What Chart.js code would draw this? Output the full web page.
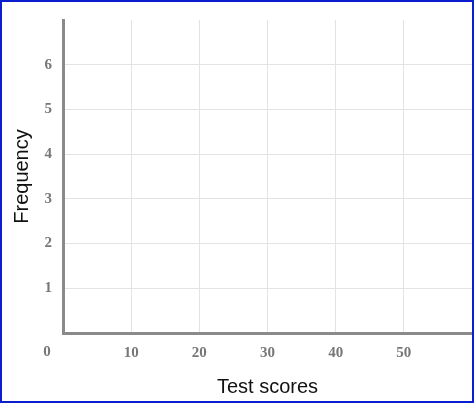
<!DOCTYPE html>
<html>
<head>
<script src="https://cdn.jsdelivr.net/npm/chart.js@4"></script>
<style>
body { margin: 0; background: #fff; }
#wrap { position: relative; width: 474px; height: 403px; }
#frame { position: absolute; left: 0; top: 0; width: 474px; height: 403px; box-sizing: border-box; border: 2px solid #0a1ecf; pointer-events: none; }
</style>
</head>
<body>
<div id="wrap">
<canvas id="myChart" width="474" height="403"></canvas>
<div id="frame"></div>
</div>
<script>
// Empty frequency grid
var xTicks = [10, 20, 30, 40, 50];
var yTicks = [1, 2, 3, 4, 5, 6];
var xRange = [0, 60];
var yRange = [0, 7];

var tickFont = { family: "Liberation Serif", size: 15, weight: "bold" };

var cornerZero = {
    id: "cornerZero",
    afterDraw: function (chart) {
        var ctx = chart.ctx;
        ctx.save();
        ctx.font = "bold 15px 'Liberation Serif'";
        ctx.fillStyle = "#777";
        ctx.textAlign = "center";
        ctx.textBaseline = "middle";
        ctx.fillText("0", 47, 352);
        ctx.restore();
    }
};

new Chart("myChart", {
    type: "scatter",
    data: { datasets: [{ data: [] }] },
    plugins: [cornerZero],
    options: {
        responsive: false,
        animation: false,
        layout: { padding: { top: -15, right: 2 } },
        plugins: { legend: { display: false }, tooltip: { enabled: false } },
        scales: {
            x: {
                min: xRange[0], max: xRange[1],
                afterFit: function (s) { s.height = 70; },
                afterBuildTicks: function (s) { s.ticks = xTicks.map(function (v) { return { value: v }; }); },
                grid: { color: "#e3e3e3", drawTicks: false },
                border: { color: "#8a8a8a", width: 3 },
                ticks: { color: "#777", font: tickFont, padding: 11 },
                title: { display: true, text: "Test scores", color: "#111", font: { family: "Liberation Sans", size: 20 }, padding: { top: 2 } }
            },
            y: {
                min: yRange[0], max: yRange[1],
                afterFit: function (s) { s.width = 63; },
                afterBuildTicks: function (s) { s.ticks = yTicks.map(function (v) { return { value: v }; }); },
                grid: { color: "#e3e3e3", drawTicks: false },
                border: { color: "#8a8a8a", width: 3 },
                ticks: { color: "#777", font: tickFont, padding: 11 },
                title: { display: true, text: "Frequency", color: "#111", font: { family: "Liberation Sans", size: 20 }, padding: { top: 10, bottom: 0 } }
            }
        }
    }
});
</script>
</body>
</html>
